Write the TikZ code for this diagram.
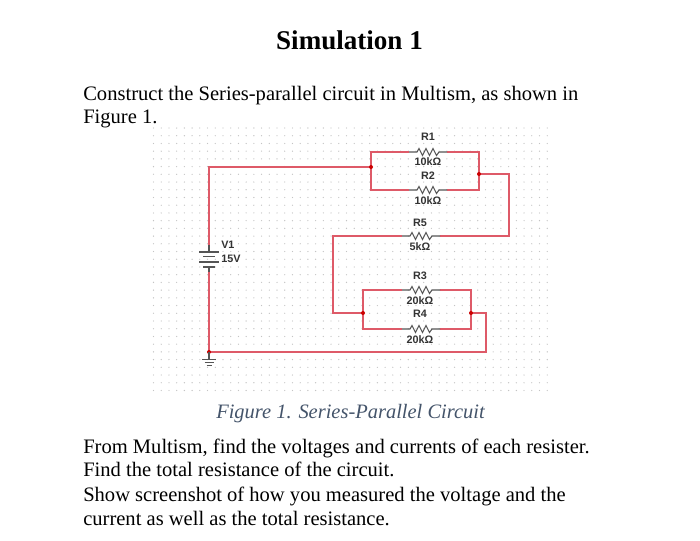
\documentclass[tikz,border=0pt]{standalone}
\usepackage{fontspec}
\setmainfont{Liberation Serif}
\newfontfamily\labelfont{Liberation Sans}
\definecolor{wirered}{HTML}{DE5A68}
\definecolor{symgray}{HTML}{555555}
\definecolor{gridgray}{HTML}{C4C4C4}
\definecolor{captiongray}{HTML}{44546A}
\definecolor{labelgray}{HTML}{333333}
\tikzset{
  wire/.style={draw=wirered,line width=0.95pt,line join=miter},
  sym/.style={draw=symgray,line width=0.8pt},
  dotj/.style={circle,fill=red!80!black,inner sep=0pt,minimum size=3pt},
  body/.style={anchor=base west,inner sep=0pt,font=\fontsize{15.42pt}{18pt}\selectfont,text=black},
  title/.style={anchor=base,inner sep=0pt,font=\fontsize{20.3pt}{24pt}\selectfont\bfseries},
  caption/.style={anchor=base west,inner sep=0pt,font=\fontsize{15.35pt}{18pt}\selectfont\itshape,text=captiongray},
  partlabel/.style={anchor=center,inner sep=0pt,font=\labelfont\fontsize{8.1pt}{9pt}\selectfont\bfseries,text=labelgray},
  pics/resistor/.style={code={
    \draw[sym] (-19,0) -- (-11,0) -- (-9,-3.5) -- (-5.5,3.5) -- (-2,-3.5) -- (1.5,3.5) -- (5,-3.5) -- (8.5,3.5) -- (11,0) -- (19,0);
  }},
}
\begin{document}
\begin{tikzpicture}[x=0.75pt,y=-0.75pt]
\useasboundingbox (0,0) rectangle (700,540);
% grid
\foreach \i in {0,...,51}{\foreach \j in {0,...,34}{
  \fill[gridgray] ({153.5+7.72*\i},{128+7.72*\j}) circle (0.5pt);
}}
% coordinates
\coordinate (top) at (209,167);
\coordinate (gnd) at (209,352);
\coordinate (batT) at (209,252);
\coordinate (batB) at (209,267);
\coordinate (jL1) at (371,167);
\coordinate (jR1) at (479,174);
\coordinate (tl1) at (371,152);
\coordinate (tr1) at (479,152);
\coordinate (bl1) at (371,190);
\coordinate (br1) at (479,190);
\coordinate (R1) at (428,152);
\coordinate (R2) at (428,190);
\coordinate (R5) at (421,236);
\coordinate (R3) at (421,290);
\coordinate (R4) at (421,329);
\coordinate (jL2) at (363,313);
\coordinate (jR2) at (471,313);
\coordinate (tl2) at (363,290);
\coordinate (tr2) at (471,290);
\coordinate (bl2) at (363,329);
\coordinate (br2) at (471,329);
% wires
\draw[wire] (209,245) -- (top) -- (jL1);
\draw[wire] (batB) -- (gnd) -- (486,352) -- (486,313) -- (jR2);
\draw[wire] ([xshift=-14.25pt]R1) -- (tl1) -- (bl1) -- ([xshift=-14.25pt]R2);
\draw[wire] ([xshift=14.25pt]R1) -- (tr1) -- (br1) -- ([xshift=14.25pt]R2);
\draw[wire] (jR1) -- (509,174) -- (509,236) -- ([xshift=14.25pt]R5);
\draw[wire] ([xshift=-14.25pt]R5) -- (333,236) -- (333,313) -- (jL2);
\draw[wire] ([xshift=-14.25pt]R3) -- (tl2) -- (bl2) -- ([xshift=-14.25pt]R4);
\draw[wire] ([xshift=14.25pt]R3) -- (tr2) -- (br2) -- ([xshift=14.25pt]R4);
% junctions
\node[dotj] (dj1) at (jL1) {};
\node[dotj] (dj2) at (jR1) {};
\node[dotj] (dj3) at (jL2) {};
\node[dotj] (dj4) at (jR2) {};
\node[dotj] (dj5) at (gnd) {};
% resistors
\pic at (R1) {resistor};
\pic at (R2) {resistor};
\pic at (R5) {resistor};
\pic at (R3) {resistor};
\pic at (R4) {resistor};
% battery
\draw[sym] (batT) -- (209,245);
\draw[sym] (199,252) -- (219,252);
\draw[sym] (203,256.5) -- (215,256.5);
\draw[sym] (199,262) -- (219,262);
\draw[sym] (203,267) -- (215,267);
\draw[sym] (209,267) -- (209,272);
% ground
\draw[sym] (gnd) -- (209,359);
\draw[sym] (202,359.5) -- (216,359.5);
\draw[sym] (204.5,362.5) -- (213.5,362.5);
\draw[sym] (206.5,365.5) -- (211.5,365.5);
% part labels
\node[partlabel] (lR1) at (428,137) {R1};
\node[partlabel] (vR1) at (428,162) {10kΩ};
\node[partlabel] (lR2) at (428,176) {R2};
\node[partlabel] (vR2) at (428,201) {10kΩ};
\node[partlabel] (lR5) at (420,223) {R5};
\node[partlabel] (vR5) at (420,247) {5kΩ};
\node[partlabel] (lR3) at (420,276) {R3};
\node[partlabel] (vR3) at (420,301) {20kΩ};
\node[partlabel] (lR4) at (420,314) {R4};
\node[partlabel] (vR4) at (420,340) {20kΩ};
\node[partlabel,anchor=west] (lV1) at (221,245) {V1};
\node[partlabel,anchor=west] (vV1) at (221,259) {15V};
% text
\node[title] (ttl) at (349.5,49) {Simulation 1};
\node[body] (t1) at (83,100) {Construct the Series-parallel circuit in Multism, as shown in};
\node[body] (t2) at (83,123) {Figure 1.};
\node[caption] (cap) at (216,418) {Figure 1. Series-Parallel Circuit};
\node[body] (t3) at (83,453) {From Multism, find the voltages and currents of each resister.};
\node[body] (t4) at (83,476) {Find the total resistance of the circuit.};
\node[body] (t5) at (83,501) {Show screenshot of how you measured the voltage and the};
\node[body] (t6) at (83,525) {current as well as the total resistance.};
\end{tikzpicture}
\end{document}
